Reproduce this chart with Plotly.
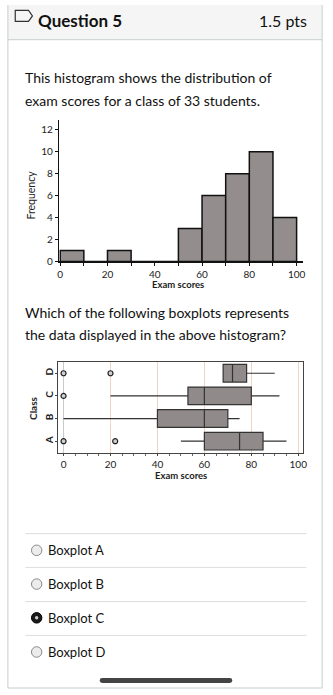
import plotly.graph_objects as go

# ---------------- data ----------------
bin_edges = [0, 10, 20, 30, 40, 50, 60, 70, 80, 90, 100]
frequencies = [1, 0, 1, 0, 0, 3, 6, 8, 10, 4]
hist_xticks = [0, 20, 40, 60, 80, 100]
hist_yticks = [0, 2, 4, 6, 8, 10, 12]

classes = ["A", "B", "C", "D"]
box_lowerfence = [50, 0, 20, 68]
box_q1 = [60, 40, 53, 68]
box_median = [75, 60, 60, 72]
box_q3 = [85, 70, 80, 78]
box_upperfence = [95, 75, 92, 90]
outlier_class = ["A", "A", "C", "D", "D"]
outlier_score = [0, 22, 0, 0, 20]

options = ["Boxplot A", "Boxplot B", "Boxplot C", "Boxplot D"]
selected = "Boxplot C"

# ---------------- page geometry helpers ----------------
W, H = 333, 695
PAD = 2  # annotation inner padding compensation


def px(x):
    return x / W


def py(y):
    return 1 - y / H


FONT = "Lato"

fig = go.Figure()

# Histogram
centers = [(bin_edges[i] + bin_edges[i + 1]) / 2 for i in range(len(frequencies))]
widths = [bin_edges[i + 1] - bin_edges[i] for i in range(len(frequencies))]
fig.add_trace(go.Bar(
    x=centers, y=frequencies, width=widths,
    marker=dict(color="#938d8d", line=dict(color="#111", width=1.5)),
    xaxis="x", yaxis="y", showlegend=False, hoverinfo="skip",
))

# Boxplots
pos = list(range(len(classes)))
fig.add_trace(go.Box(
    y=pos, q1=box_q1, median=box_median, q3=box_q3,
    lowerfence=box_lowerfence, upperfence=box_upperfence,
    orientation="h", width=0.78, whiskerwidth=0,
    fillcolor="#908a8a", line=dict(color="#333", width=1.2),
    boxpoints=False, xaxis="x2", yaxis="y2", showlegend=False, hoverinfo="skip",
))
fig.add_trace(go.Scatter(
    x=outlier_score, y=[classes.index(c) for c in outlier_class],
    mode="markers",
    marker=dict(symbol="circle", size=5, color="#d0d0d0", line=dict(color="#222", width=1.2)),
    xaxis="x2", yaxis="y2", showlegend=False, hoverinfo="skip",
))

tickfont = dict(family=FONT, size=10, color="#222")

layout = dict(
    width=W, height=H, autosize=False,
    margin=dict(l=0, r=0, t=0, b=0),
    paper_bgcolor="white", plot_bgcolor="white",
    font=dict(family=FONT, color="#111"),
    bargap=0,
    xaxis=dict(
        domain=[px(58.3), px(307)], range=[-0.4, 102.9], anchor="y",
        tickvals=hist_xticks, ticks="outside", ticklen=3, tickwidth=1, tickcolor="#111",
        showline=True, linecolor="#111", linewidth=1.5, showgrid=False, zeroline=False,
        minor=dict(dtick=10, tick0=0, ticks="outside", ticklen=3, tickcolor="#111", showgrid=False),
        tickfont=tickfont, fixedrange=True,
    ),
    yaxis=dict(
        domain=[py(263.3), py(121)], range=[0, 12.88], anchor="x",
        tickvals=hist_yticks, ticks="outside", ticklen=3, tickcolor="#111",
        showline=True, linecolor="#111", linewidth=1.5, showgrid=False, zeroline=False,
        tickfont=tickfont, fixedrange=True,
    ),
    xaxis2=dict(
        domain=[px(56.7), px(306.7)], range=[-2.5, 102.1], anchor="y2",
        tickvals=hist_xticks, ticks="outside", ticklen=2, tickcolor="#444",
        showline=True, mirror=True, linecolor="#444", linewidth=1,
        showgrid=True, gridcolor="#efd4c2", gridwidth=1,
        zeroline=True, zerolinecolor="#c9c9c9", zerolinewidth=1.5,
        minor=dict(dtick=5, tick0=0, ticks="outside", ticklen=2, tickcolor="#666", showgrid=False),
        tickfont=tickfont, fixedrange=True,
    ),
    yaxis2=dict(
        domain=[py(456.7), py(365)], range=[-0.54, 3.48], anchor="x2",
        tickvals=pos, ticktext=["<b>%s</b>" % c for c in classes], tickangle=-90,
        ticks="outside", ticklen=2, tickcolor="#444", ticklabelstandoff=-2,
        showline=True, mirror=True, linecolor="#444", linewidth=1,
        showgrid=False, zeroline=False, tickfont=tickfont, fixedrange=True,
    ),
)
fig.update_layout(**layout)

shapes = []
annotations = []


def text(t, x, y, size, anchor="left", angle=0, color="#111"):
    dx = -PAD if anchor == "left" else (PAD if anchor == "right" else 0)
    annotations.append(dict(text=t, x=px(x + dx), y=py(y), xref="paper", yref="paper",
                            xanchor=anchor, yanchor="middle", showarrow=False, textangle=angle,
                            borderpad=0, font=dict(family=FONT, size=size, color=color)))


# page frame
border = "#c7cdd1"
shapes.append(dict(type="rect", xref="paper", yref="paper", x0=px(6), x1=px(326), y0=py(40), y1=py(5),
                   fillcolor="#f5f5f5", line=dict(width=0), layer="below"))
shapes.append(dict(type="line", xref="paper", yref="paper", x0=px(6), x1=px(326), y0=py(40), y1=py(40),
                   line=dict(color=border, width=1)))
for xx in (6, 326):
    shapes.append(dict(type="line", xref="paper", yref="paper", x0=px(xx), x1=px(xx), y0=py(5), y1=py(693),
                       line=dict(color=border, width=1)))
shapes.append(dict(type="line", xref="paper", yref="paper", x0=px(6), x1=px(326), y0=py(693), y1=py(693),
                   line=dict(color=border, width=1)))

# question icon
icon = "M {},{} L {},{} L {},{} L {},{} L {},{} Z".format(
    px(13.5), py(10.5), px(27), py(10.5), px(31), py(16), px(27), py(21.5), px(13.5), py(21.5))
shapes.append(dict(type="path", xref="paper", yref="paper", path=icon,
                   line=dict(color="#333", width=1.2), fillcolor="rgba(0,0,0,0)"))

text("<b>Question 5</b>", 37.5, 20.5, 17)
text("1.5 pts", 310, 21, 16, anchor="right")

body_lines = [
    ("This histogram shows the distribution of", 78.5),
    ("exam scores for a class of 33 students.", 101),
    ("Which of the following boxplots represents", 315),
    ("the data displayed in the above histogram?", 337),
]
for t, yy in body_lines:
    text(t, 24.5, yy, 14)

# axis titles
text("<b>Exam scores</b>", 179.5, 286.5, 9.5, anchor="center", color="#222")
text("Frequency", 29.5, 196, 10.5, anchor="center", angle=-90, color="#222")
text("<b>Exam scores</b>", 182, 478.5, 9.5, anchor="center", color="#222")
text("<b>Class</b>", 31.5, 411, 10, anchor="center", angle=-90, color="#222")

# answer options
sep_y = [537.5, 571.5, 606, 640]
for yy in sep_y:
    shapes.append(dict(type="line", xref="paper", yref="paper", x0=px(24), x1=px(310), y0=py(yy), y1=py(yy),
                       line=dict(color="#dddddd", width=1)))
opt_y = [554.3, 588.3, 622.3, 656.7]
r = 5.3
for label, yy in zip(options, opt_y):
    if label == selected:
        shapes.append(dict(type="circle", xref="paper", yref="paper",
                           x0=px(35.3 - r), x1=px(35.3 + r), y0=py(yy + r), y1=py(yy - r),
                           fillcolor="#1a1a1a", line=dict(color="#000", width=1)))
        shapes.append(dict(type="circle", xref="paper", yref="paper",
                           x0=px(35.3 - 1.8), x1=px(35.3 + 1.8), y0=py(yy + 1.8), y1=py(yy - 1.8),
                           fillcolor="#cccccc", line=dict(width=0)))
    else:
        shapes.append(dict(type="circle", xref="paper", yref="paper",
                           x0=px(35.3 - r), x1=px(35.3 + r), y0=py(yy + r), y1=py(yy - r),
                           fillcolor="#ececec", line=dict(color="#8a8a8a", width=1)))
    text(label, 47.5, yy, 13)

# home indicator
shapes.append(dict(type="line", xref="paper", yref="paper", x0=px(102), x1=px(232), y0=py(685.5), y1=py(685.5),
                   line=dict(color="#444", width=5)))
for xx in (102, 232):
    shapes.append(dict(type="circle", xref="paper", yref="paper", x0=px(xx - 2.5), x1=px(xx + 2.5),
                       y0=py(688), y1=py(683), fillcolor="#444", line=dict(width=0)))

fig.update_layout(shapes=shapes, annotations=annotations)

fig.write_html("out.html", config={"displayModeBar": False, "staticPlot": True})
